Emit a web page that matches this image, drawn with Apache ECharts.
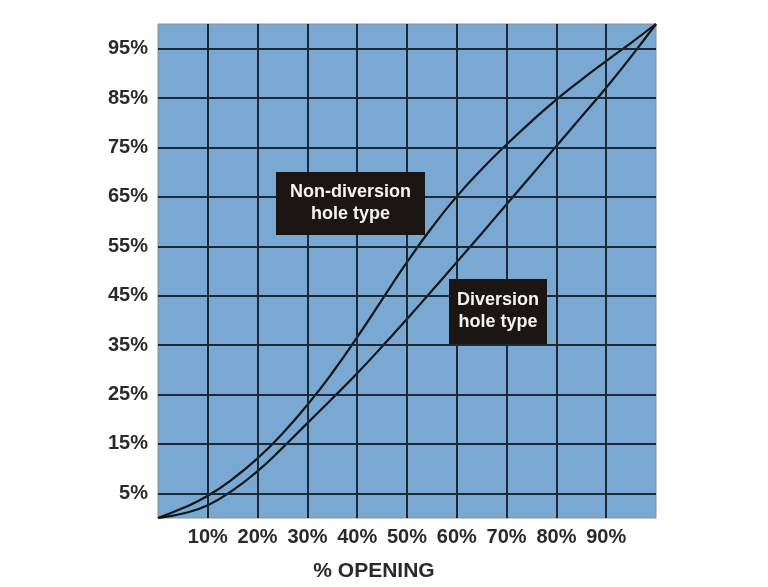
<!DOCTYPE html>
<html>
<head>
<meta charset="utf-8">
<script src="https://cdn.jsdelivr.net/npm/echarts@6/dist/echarts.min.js"></script>
<style>
html,body{margin:0;padding:0;background:#fff;}
#c{width:768px;height:587px;}
</style>
</head>
<body>
<div id="c"></div>
<script>
// Data
const openingX = [0, 5, 10, 15, 20, 25, 30, 35, 40, 45, 50, 55, 60, 65, 70, 75, 80, 85, 90, 95, 100];
const nonDivY = [0, 2.0, 4.5, 7.9, 12.1, 17.1, 22.9, 29.4, 36.6, 44.2, 51.8, 58.8, 65.1, 70.6, 75.6, 80.3, 84.7, 88.7, 92.5, 96.2, 100];
const divY = [0, 0.9, 2.6, 5.6, 9.5, 14.2, 19.2, 24.2, 29.3, 34.7, 40.3, 46.0, 51.8, 57.6, 63.5, 69.4, 75.3, 81.2, 87.1, 93.4, 100];
const yTickValues = [5, 15, 25, 35, 45, 55, 65, 75, 85, 95];
const xTickValues = [10, 20, 30, 40, 50, 60, 70, 80, 90];
const xAxisName = '% OPENING';
const label1 = 'Non-diversion\nhole type';
const label2 = 'Diversion\nhole type';

const FONT = '"Liberation Sans", Arial, Helvetica, sans-serif';
const gridColor = '#1c2833';

const chart = echarts.init(document.getElementById('c'), null, {renderer: 'canvas'});

const gridLines = [];
yTickValues.forEach(v => gridLines.push({yAxis: v}));
xTickValues.forEach(v => gridLines.push({xAxis: v}));

chart.setOption({
  animation: false,
  backgroundColor: '#ffffff',
  grid: {
    left: 158, top: 24, right: 112, bottom: 69,
    show: true, backgroundColor: '#79a9d3', borderColor: '#8a8f94', borderWidth: 1
  },
  xAxis: {
    type: 'value', min: 0, max: 100, interval: 10,
    axisLine: {show: false}, axisTick: {show: false}, splitLine: {show: false},
    axisLabel: {
      margin: 9, color: '#2a2a2a', fontSize: 20, fontWeight: 'bold', fontFamily: FONT,
      formatter: v => (v > 0 && v < 100) ? v + '%' : ''
    }
  },
  yAxis: {
    type: 'value', min: 0, max: 100, interval: 10,
    axisLine: {show: false}, axisTick: {show: false}, splitLine: {show: false},
    axisLabel: {
      customValues: yTickValues,
      margin: 10, color: '#2a2a2a', fontSize: 20, fontWeight: 'bold', fontFamily: FONT,
      formatter: v => v + '%'
    }
  },
  series: [
    {
      type: 'line', name: 'grid', data: [], silent: true,
      markLine: {
        silent: true, symbol: ['none', 'none'], label: {show: false},
        lineStyle: {color: gridColor, width: 2, type: 'solid'},
        emphasis: {disabled: true},
        data: gridLines
      },
      z: 1
    },
    {
      type: 'line', name: 'Non-diversion hole type',
      data: openingX.map((x, i) => [x, nonDivY[i]]),
      smooth: 0.5, showSymbol: false,
      lineStyle: {color: '#121416', width: 2.2}, z: 3
    },
    {
      type: 'line', name: 'Diversion hole type',
      data: openingX.map((x, i) => [x, divY[i]]),
      smooth: 0.5, showSymbol: false,
      lineStyle: {color: '#121416', width: 2.2}, z: 3
    }
  ],
  graphic: [
    {type: 'rect', shape: {x: 276, y: 172, width: 149, height: 63}, style: {fill: '#1b1613'}, z: 100},
    {type: 'text', x: 350.5, y: 203.5, z: 101,
      style: {text: label1, fill: '#f4f4f4', font: 'bold 18px ' + FONT, align: 'center', verticalAlign: 'middle', lineHeight: 22}},
    {type: 'rect', shape: {x: 449, y: 279, width: 98, height: 65}, style: {fill: '#1b1613'}, z: 100},
    {type: 'text', x: 498, y: 311.5, z: 101,
      style: {text: label2, fill: '#f4f4f4', font: 'bold 18px ' + FONT, align: 'center', verticalAlign: 'middle', lineHeight: 22}},
    {type: 'text', x: 374, y: 571, z: 101,
      style: {text: xAxisName, fill: '#2a2a2a', font: 'bold 21px ' + FONT, align: 'center', verticalAlign: 'middle'}}
  ]
});
</script>
</body>
</html>
